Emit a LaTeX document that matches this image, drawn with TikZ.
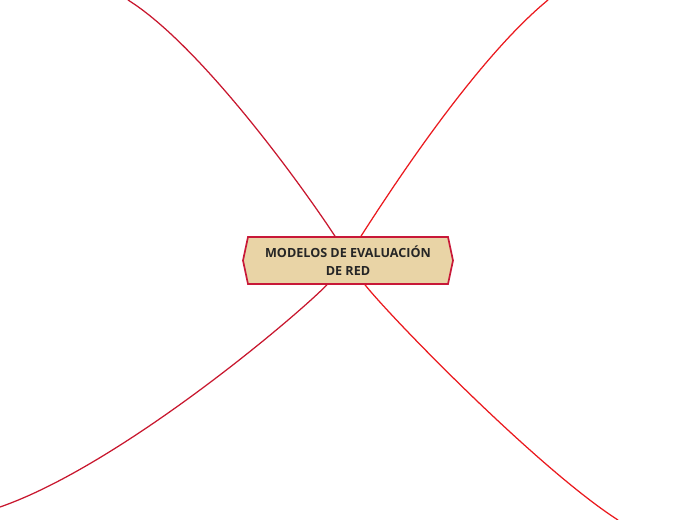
\documentclass[tikz,border=0pt]{standalone}
\usepackage{fontspec}
\setmainfont{Open Sans}
\usetikzlibrary{shapes.symbols}

\definecolor{rojoosc}{HTML}{C8172E}
\definecolor{rojo}{HTML}{EA1A1F}
\definecolor{borde}{HTML}{C81838}
\definecolor{arena}{HTML}{E9D4A6}

\begin{document}
\begin{tikzpicture}[x=1pt, y=-1pt, line cap=round,
  tema/.style={shape=signal, signal to=west and east, signal pointer angle=156,
    draw=borde, line width=1.7pt, fill=arena, minimum width=210pt, minimum height=47pt,
    inner sep=0pt, align=center, font=\bfseries\fontsize{12.6pt}{18pt}\selectfont, text=black!85},
  rama/.style={line width=1.25pt}]

\useasboundingbox (0,0) rectangle (697,520);
\clip (0,0) rectangle (697,520);

\node[tema] (titulo) at (348,260.5) {MODELOS DE EVALUACIÓN\\DE RED};

\coordinate (a1) at (128,0);
\coordinate (a2) at (548,0);
\coordinate (a3) at (0,507);
\coordinate (a4) at (618,520);

\draw[rama,rojoosc] ([xshift=-13pt]titulo.north) .. controls (300,183) and (200,45) .. (a1);
\draw[rama,rojo] ([xshift=13pt]titulo.north) .. controls (390,191) and (475,60) .. (a2);
\draw[rama,rojoosc] ([xshift=-21pt]titulo.south) .. controls (290,322) and (118,466) .. (a3);
\draw[rama,rojo] ([xshift=17pt]titulo.south) .. controls (395,322) and (540,470) .. (a4);

\end{tikzpicture}
\end{document}
